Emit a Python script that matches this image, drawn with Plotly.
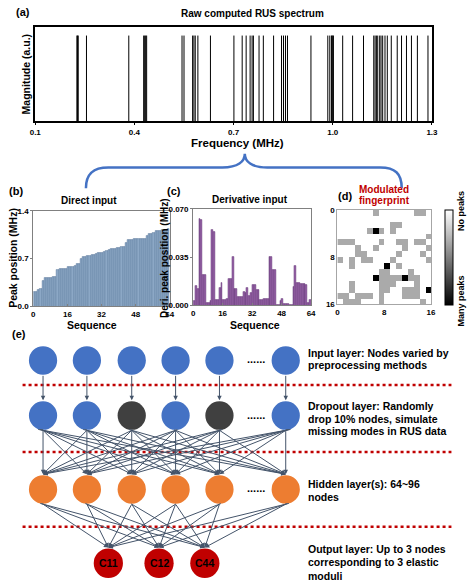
import numpy as np
import plotly.graph_objects as go

W, H = 474, 587
FONT = "Liberation Sans, Arial, sans-serif"

# ---------------- data ----------------
# (a) raw computed RUS spectrum: peak frequencies (MHz)
spectrum_freqs = [0.226, 0.228, 0.230, 0.255, 0.383, 0.428, 0.431, 0.434, 0.437,
                  0.544, 0.550, 0.576, 0.580, 0.584, 0.592, 0.630, 0.701, 0.726,
                  0.738, 0.750, 0.756, 0.760, 0.777, 0.790, 0.821, 0.845, 0.851,
                  0.857, 0.863, 0.934, 0.985, 0.991, 0.996, 0.998, 1.000, 1.002,
                  1.030, 1.060, 1.093, 1.124, 1.128, 1.132, 1.136, 1.142, 1.146,
                  1.151, 1.158, 1.165, 1.177, 1.195, 1.208, 1.223, 1.238, 1.256,
                  1.288]
peak_magnitude = 1.0
freq_ticks = [0.1, 0.4, 0.7, 1.0, 1.3]

# (b) direct input: peak position (MHz) per sequence index
direct_input = [0.22, 0.22, 0.245, 0.25, 0.38, 0.42, 0.42, 0.425, 0.425, 0.43,
                0.43, 0.54, 0.545, 0.545, 0.55, 0.55, 0.58, 0.58, 0.585, 0.59,
                0.63, 0.63, 0.70, 0.72, 0.73, 0.74, 0.74, 0.75, 0.76, 0.77,
                0.78, 0.785, 0.79, 0.80, 0.82, 0.83, 0.84, 0.845, 0.85, 0.855,
                0.86, 0.87, 0.875, 0.93, 0.98, 0.98, 0.98, 0.985, 0.985, 0.99,
                0.99, 0.99, 0.99, 1.03, 1.06, 1.07, 1.08, 1.10, 1.10, 1.11,
                1.12, 1.12, 1.12, 1.13]

# (c) derivative input (MHz)
derivative_input = [0.003, 0.014, 0.012, 0.063, 0.062, 0.022, 0.022, 0.002, 0.002, 0.003,
                    0.055, 0.053, 0.004, 0.004, 0.013, 0.016, 0.004, 0.004, 0.005, 0.019,
                    0.019, 0.035, 0.012, 0.012, 0.006, 0.006, 0.006, 0.010, 0.009, 0.013,
                    0.007, 0.009, 0.015, 0.015, 0.011, 0.011, 0.004, 0.004, 0.005, 0.005,
                    0.005, 0.035, 0.035, 0.026, 0.026, 0.0005, 0.0005, 0.003, 0.005, 0.001,
                    0.001, 0.001, 0.0005, 0.0005, 0.0135, 0.029, 0.016, 0.016, 0.0155, 0.0155,
                    0.0155, 0.015, 0.002, 0.004]
seq_ticks = [0, 16, 32, 48, 64]

# (d) modulated fingerprint: peaks per cell (16 x 16)
fingerprint = [
    [0,0,0,0,0,0,1,0,0,0,0,0,0,1,1,0],
    [0,0,0,0,0,0,0,0,0,0,0,0,0,0,0,0],
    [0,0,0,0,0,0,0,0,0,1,1,0,0,0,0,0],
    [0,0,0,0,0,1,3,1,0,1,0,0,0,0,0,0],
    [0,0,0,0,0,0,0,0,0,0,0,0,0,0,0,1],
    [1,1,1,0,0,0,0,1,0,0,1,1,0,1,1,0],
    [0,0,0,1,0,0,1,0,0,0,0,1,0,0,0,1],
    [0,0,0,1,1,0,0,0,0,0,1,0,0,0,1,0],
    [1,0,1,0,1,1,0,0,0,1,0,0,0,0,0,1],
    [0,0,1,0,0,0,0,0,3,0,1,0,0,0,0,0],
    [0,0,0,0,0,0,0,1,1,0,0,0,1,0,0,0],
    [0,0,0,0,0,0,3,1,1,1,1,3,1,1,0,0],
    [0,0,1,0,0,0,0,1,1,1,0,0,0,1,0,0],
    [0,0,1,0,0,0,0,1,1,0,0,1,1,1,0,3],
    [1,1,0,1,1,1,0,1,0,0,0,1,1,1,0,0],
    [0,1,1,1,0,0,0,1,0,0,0,0,0,0,1,0],
]
grid_ticks = [0, 8, 16]

# (e) network
dropout_kept = [1, 1, 0, 1, 0, 1]
output_labels = ["C11", "C12", "C44"]
layer_texts = [
    ["Input layer: Nodes varied by", "preprocessing methods"],
    ["Dropout layer: Randomly", "drop 10% nodes, simulate", "missing modes in RUS data"],
    ["Hidden layer(s): 64~96", "nodes"],
    ["Output layer: Up to 3 nodes", "corresponding to 3 elastic", "moduli"],
]

# ---------------- helpers ----------------
def px(x):
    return x / W

def py(y):
    return 1 - y / H

def dom_x(a, b):
    return [a / W, b / W]

def dom_y(top, bot):
    return [1 - bot / H, 1 - top / H]

fig = go.Figure()

# (a) spectrum lines
xs, ys = [], []
for f in spectrum_freqs:
    xs += [f, f, None]
    ys += [0, peak_magnitude, None]
fig.add_trace(go.Scatter(x=xs, y=ys, mode="lines", line=dict(color="black", width=1.0),
                         xaxis="x", yaxis="y", hoverinfo="skip"))

# (b) direct input bars
idx = np.arange(len(direct_input)) + 0.5
fig.add_trace(go.Bar(x=idx, y=direct_input, width=1,
                     marker=dict(color="#8CA8C6", line=dict(color="#52708F", width=0.4)),
                     xaxis="x2", yaxis="y2"))

# (c) derivative bars
idx2 = np.arange(len(derivative_input)) + 0.5
fig.add_trace(go.Bar(x=idx2, y=derivative_input, width=1,
                     marker=dict(color="#9563A6", line=dict(color="#5A2E6C", width=0.4)),
                     xaxis="x3", yaxis="y3"))

# (d) heatmap (negated so that white = no peaks at top of colorbar)
z = -np.array(fingerprint, dtype=float)
fig.add_trace(go.Heatmap(z=z, x0=0.5, dx=1, y0=0.5, dy=1,
                         colorscale=[[0, "black"], [1, "white"]], zmin=-3, zmax=0,
                         xaxis="x4", yaxis="y4", hoverinfo="skip",
                         colorbar=dict(x=px(450), xanchor="left", y=py(257), yanchor="middle",
                                       len=96 / H, lenmode="fraction", thickness=8,
                                       thicknessmode="pixels", outlinewidth=1,
                                       outlinecolor="black", showticklabels=False, ticks="",
                                       xpad=0, ypad=0)))

tickf = dict(family=FONT, size=8, color="black", weight="bold")
tickf2 = dict(family=FONT, size=8, color="black", weight="bold")

layout = dict(
    width=W, height=H, margin=dict(l=0, r=0, t=0, b=0),
    paper_bgcolor="white", plot_bgcolor="white", showlegend=False, bargap=0,
    font=dict(family=FONT, color="black"),
    xaxis=dict(domain=dom_x(30, 437), range=[0.1, 1.3], tickvals=freq_ticks,
               ticktext=["0.1", "0.4", "0.7", "1.0", "1.3"], showline=True, mirror=True,
               linecolor="black", linewidth=1.5, ticks="outside", ticklen=2, tickcolor="black",
               showgrid=False, zeroline=False, tickfont=tickf, anchor="y"),
    yaxis=dict(domain=dom_y(23, 119), range=[0, 1.104], showline=True, mirror=True,
               linecolor="black", linewidth=1.5, showticklabels=False, ticks="",
               showgrid=False, zeroline=False, anchor="x"),
    xaxis2=dict(domain=dom_x(28, 168), range=[0, 64], tickvals=seq_ticks, showline=True,
                mirror=True, linecolor="#808080", linewidth=1, ticks="inside", ticklen=2,
                tickcolor="#808080", showgrid=False, zeroline=False, tickfont=tickf2, anchor="y2"),
    yaxis2=dict(domain=dom_y(210, 307), range=[0, 1.4], tickvals=[0, 0.7, 1.4],
                ticktext=["0.0", "0.7", "1.4"], showline=True, mirror=True, linecolor="#808080",
                linewidth=1, ticks="outside", ticklen=2, tickcolor="#808080", showgrid=False,
                zeroline=False, tickfont=tickf2, anchor="x2"),
    xaxis3=dict(domain=dom_x(192, 313), range=[0, 64], tickvals=seq_ticks, showline=True,
                mirror=True, linecolor="#808080", linewidth=1, ticks="inside", ticklen=2,
                tickcolor="#808080", showgrid=False, zeroline=False, tickfont=tickf2, anchor="y3"),
    yaxis3=dict(domain=dom_y(208, 306), range=[0, 0.07], tickvals=[0, 0.035, 0.07],
                ticktext=["0.000", "0.035", "0.070"], showline=True, mirror=True,
                linecolor="#808080", linewidth=1, ticks="outside", ticklen=2,
                tickcolor="#808080", showgrid=False, zeroline=False, tickfont=tickf2, anchor="x3"),
    xaxis4=dict(domain=dom_x(340, 436), range=[0, 16], tickvals=grid_ticks, showline=True,
                mirror=True, linecolor="#A6A6A6", linewidth=1, ticks="", showgrid=False,
                zeroline=False, tickfont=tickf2, anchor="y4"),
    yaxis4=dict(domain=dom_y(209, 305), range=[16, 0], tickvals=grid_ticks, showline=True,
                mirror=True, linecolor="#A6A6A6", linewidth=1, ticks="", showgrid=False,
                zeroline=False, tickfont=tickf2, anchor="x4"),
)
fig.update_layout(**layout)

ann = []
shapes = []

def text(x, y, s, size=10, color="black", angle=0, xanchor="center", bold=True):
    ann.append(dict(x=px(x), y=py(y), xref="paper", yref="paper", text=s, showarrow=False,
                    xanchor=xanchor, yanchor="middle", textangle=angle,
                    font=dict(family=FONT, size=size, color=color,
                              weight="bold" if bold else "normal")))

# panel labels
text(17, 8, "(a)", 11)
text(10, 190, "(b)", 11)
text(172, 190, "(c)", 11)
text(348, 195, "(d)", 11)
text(13, 335, "(e)", 11)

# titles & axis titles
text(253, 10, "Raw computed RUS spectrum", 10)
text(238, 141, "Frequency (MHz)", 11.5)
text(20, 71, "Magnitude (a.u.)", 10.5, angle=-90)
text(85, 200, "Direct input", 10)
text(250, 199, "Derivative input", 10)
text(388, 188, "Modulated", 10, color="#C00000")
text(388, 200, "fingerprint", 10, color="#C00000")
text(7, 258, "Peak position (MHz)", 10.5, angle=-90)
text(162, 258, "Deri. peak position (MHz)", 10, angle=-90)
text(88, 326, "Sequence", 10.5)
text(255, 326, "Sequence", 10.5)
text(467, 210, "No peaks", 9, angle=-90)
text(467, 302, "Many peaks", 9, angle=-90)

# brace
pts = [(82, 187), (82, 172), (90, 166), (105, 166), (222, 166), (238, 166), (245, 160),
       (245, 152), (245, 160), (252, 166), (268, 166), (384, 166), (399, 166), (406, 172),
       (406, 187)]
P = [f"{px(a):.5f},{py(b):.5f}" for a, b in pts]
path = (f"M {P[0]} C {P[1]} {P[2]} {P[3]} L {P[4]} C {P[5]} {P[6]} {P[7]} "
        f"C {P[8]} {P[9]} {P[10]} L {P[11]} C {P[12]} {P[13]} {P[14]}")
shapes.append(dict(type="path", path=path, xref="paper", yref="paper",
                   line=dict(color="#4472C4", width=2.5)))

# network geometry
node_x = [38, 83, 129, 174, 219, 287]
out_x = [105, 157, 204]
y_in, y_drop, y_hid, y_out = 362, 418, 493, 568
R = 14.5
ROUT = 15
BLUE, DARK, ORANGE, RED = "#4472C4", "#404040", "#ED7D31", "#C00000"
LINE = "#44546A"

def arrow(tx, ty, hx, hy):
    ann.append(dict(x=px(hx), y=py(hy), xref="paper", yref="paper", ax=tx - hx, ay=ty - hy,
                    text="", showarrow=True, arrowhead=2, arrowsize=0.9, arrowwidth=1,
                    arrowcolor=LINE, standoff=0, startstandoff=0))

for x in node_x:
    arrow(x, y_in + R, x, y_drop - R - 1)
for x1 in node_x:
    for x2 in node_x:
        arrow(x1, y_drop + R, x2, y_hid - R - 1)
for x1 in node_x:
    for x2 in out_x:
        arrow(x1, y_hid + R, x2, y_out - ROUT - 1)

def circle(cx, cy, r, color):
    shapes.append(dict(type="circle", xref="paper", yref="paper", x0=px(cx - r), x1=px(cx + r),
                       y0=py(cy + r), y1=py(cy - r), fillcolor=color, line=dict(width=0),
                       layer="above"))

for x in node_x:
    circle(x, y_in, R, BLUE)
for x, k in zip(node_x, dropout_kept):
    circle(x, y_drop, R, BLUE if k else DARK)
for x in node_x:
    circle(x, y_hid, R, ORANGE)
for x, lab in zip(out_x, output_labels):
    circle(x, y_out, ROUT, RED)
    text(x, y_out, lab, 10.5)

for y in (y_in, y_drop, y_hid):
    text(257, y - 1, "......", 11)

# red dotted separators
for y in (387, 455, 531):
    shapes.append(dict(type="line", xref="paper", yref="paper", x0=px(17), x1=px(457),
                       y0=py(y), y1=py(y), line=dict(color=RED, width=2.5, dash="dot")))

# layer descriptions
text_ys = [[354, 367], [408, 421, 434], [487, 501], [553, 567, 581]]
for lines, ys_ in zip(layer_texts, text_ys):
    for s, y in zip(lines, ys_):
        text(308, y, s, 10.5, xanchor="left")

fig.update_layout(annotations=ann, shapes=shapes)
fig.write_html("out.html", config={"displayModeBar": False})
